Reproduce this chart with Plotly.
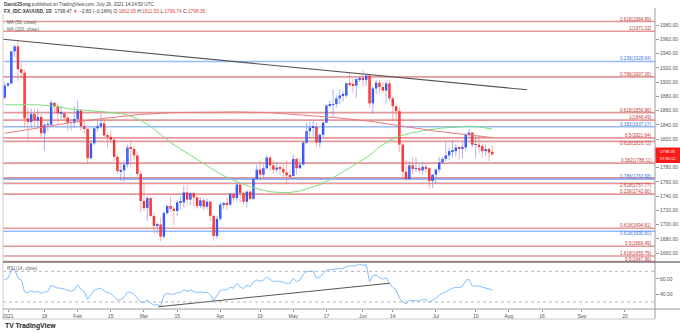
import pandas as pd
import plotly.graph_objects as go

W, H = 680, 333
def px(x): return x / W
def py(y): return 1 - y / H

# ---------------- data ----------------
dates = pd.bdate_range("2020-12-31", "2021-07-26").strftime("%Y-%m-%d").tolist()
calendar = pd.bdate_range("2020-12-31", "2021-09-30").strftime("%Y-%m-%d").tolist()

opens = [1878,1895,1898,1943,1950,1918,1913,
         1849,1844,1855,1846,1851, 1828,1840,1840,1871,1866, 1856,1856,1850,1843,1843,
         1848,1860,1838,1834,1793, 1814,1835,1838,1842,1825, 1823,1819,1795,1775,1776,
         1784,1808,1806,1797,1771, 1733,1723,1737,1712,1698, 1700,1683,1716,1726,1722,
         1719,1731,1731,1745,1735, 1744,1738,1726,1734,1725, 1732,1712,1684,1708,1728,
         1729,1728,1743,1737,1756, 1744,1732,1746,1736,1764, 1777,1770,1779,1794,1783,
         1777,1780,1778,1773,1769, 1768,1792,1779,1784,1815, 1831,1836,1837,1815,1826,
         1843,1867,1868,1869,1877, 1881,1881,1898,1896,1895, 1904,1905,1903,1909,1870,
         1891,1899,1893,1888,1898, 1877,1866,1859,1812,1774, 1764,1783,1778,1779,1776,
         1781,1779,1761,1770,1777, 1787,1792,1797,1803,1803, 1808,1806,1808,1826,1829,
         1812,1812,1810,1803,1806, 1802.05]
highs = [1900,1899,1944,1952,1959,1927,1917,
         1864,1863,1862,1863,1855, 1842,1845,1875,1871,1869, 1867,1858,1852,1846,1866,
         1875,1862,1845,1836,1818, 1838,1848,1855,1848,1828, 1831,1821,1798,1787,1790,
         1812,1815,1810,1802,1775, 1760,1740,1739,1717,1703, 1710,1719,1728,1739,1725,
         1734,1740,1755,1755,1746, 1746,1741,1738,1738,1736, 1733,1714,1712,1731,1732,
         1738,1745,1745,1758,1758, 1747,1748,1749,1765,1784, 1790,1785,1797,1797,1790,
         1788,1783,1784,1790,1776, 1798,1794,1793,1817,1843, 1845,1846,1843,1828,1845,
         1869,1874,1890,1881,1890, 1887,1900,1913,1904,1905, 1909,1916,1911,1910,1894,
         1903,1903,1900,1903,1903, 1879,1870,1865,1815,1791, 1789,1795,1794,1785,1788,
         1786,1781,1771,1779,1795, 1794,1815,1809,1818,1813, 1810,1816,1829,1834,1830,
         1825,1825,1814,1812,1808, 1811.53]
lows = [1875,1893,1897,1935,1901,1906,1836,
        1817,1836,1837,1836,1822, 1803,1831,1837,1855,1841, 1848,1846,1831,1832,1835,
        1846,1832,1828,1785,1792, 1811,1830,1835,1822,1808, 1813,1789,1771,1761,1760,
        1780,1781,1790,1767,1717, 1719,1705,1710,1688,1687, 1676,1680,1713,1718,1699,
        1712,1721,1724,1727,1727, 1724,1722,1723,1720,1721, 1705,1677,1680,1705,1722,
        1721,1726,1732,1733,1731, 1728,1724,1734,1735,1762, 1762,1766,1777,1775,1771,
        1773,1770,1764,1756,1763, 1768,1770,1778,1783,1813, 1821,1823,1809,1808,1822,
        1843,1864,1852,1864,1869, 1872,1878,1893,1885,1878, 1900,1894,1895,1864,1855,
        1883,1884,1885,1870,1873, 1845,1845,1802,1763,1761, 1762,1770,1774,1771,1769,
        1772,1750,1751,1758,1773, 1785,1789,1790,1794,1795, 1791,1793,1803,1822,1808,
        1794,1800,1794,1796,1789, 1796.74]
closes = [1895,1898,1943,1950,1918,1913,1849,
          1844,1855,1846,1851,1828, 1840,1840,1871,1866,1856, 1856,1850,1843,1843,1848,
          1860,1838,1834,1793,1814, 1835,1838,1842,1825,1823, 1819,1795,1775,1776,1784,
          1808,1806,1797,1771,1733, 1723,1737,1712,1698,1700, 1683,1716,1726,1722,1719,
          1731,1731,1745,1735,1744, 1738,1726,1734,1725,1732, 1712,1684,1708,1728,1729,
          1728,1743,1737,1756,1744, 1732,1746,1736,1764,1777, 1770,1779,1794,1783,1777,
          1780,1778,1773,1769,1768, 1792,1779,1784,1815,1831, 1836,1837,1815,1826,1843,
          1867,1868,1869,1877,1881, 1881,1898,1896,1895,1904, 1905,1903,1909,1870,1891,
          1899,1893,1888,1898,1877, 1866,1859,1812,1774,1764, 1783,1778,1779,1776,1781,
          1779,1761,1770,1777,1787, 1792,1797,1803,1803,1808, 1806,1808,1826,1829,1812,
          1812,1810,1803,1806,1801, 1798.35]
rsi = [59,61,71,73,61,59,43,
       42,45,43,44,41, 43,43.5,52,50,48, 48,47,45,44,45.6,
       52,46.5,43.4,33.5,40, 45,47,48,44,42, 41,36.9,32.5,33,36,
       43,42.5,40,34.8,30, 29,32.5,28.5,26,26.5, 23.8,39,41,40.5,40,
       42,42,46.5,43.4,45.6, 44,42,43.4,42,43, 39,31.6,39,45,46,
       46,49.2,48,54.4,49.5, 47.5,52,50,56,58.7, 57,58.5,63,59.6,56.5,
       57.5,57,56,54.4,54.5, 61,56.5,58.7,66,69.5, 70,70.5,61,63,67,
       71.8,72,72.7,73.5,74, 74,76,77,77,77.5, 79,78,78.5,56.5,64,
       65,62,59.6,61.7,54.4, 49.2,45.6,35,30,27.3, 32.5,31.6,32,31.5,33,
       33.5,29.5,32,34.8,39, 41.3,43.4,46,47.8,49.2, 48.5,50.8,57.8,59.6,50.8,
       51,50.8,49.2,48.5,47, 45.5]

# moving averages (bar index, value)
ma50_idx = [0,5,10,15,20,25,30,35,38,41,44,47,50,53,56,59,62,65,68,71,74,77,80,83,86,
            89,92,95,98,101,104,107,110,113,116,119,122,125,128,131,134,137,140,143,146,147]
ma50_val = [1868,1868,1868,1866,1862,1860,1858,1856,1852,1846,1838,1826,1815,1806,1797,
            1788,1779,1771,1764,1758,1753,1749,1746,1745,1745,1747,1751,1756,1763,1771,
            1779,1788,1797,1809,1818,1824,1828,1831,1833,1835,1836,1837,1838,1837,1835,1834]
ma200_idx = [0,10,20,30,40,50,60,70,80,90,100,110,115,120,130,140,147]
ma200_val = [1828,1836,1843,1849,1854,1857,1858,1858,1857,1854,1850,1845,1842,1838,1831,1826,1822]

# Fibonacci levels
fib_ratio = ["2.618","1","0.236","0.786","0.618","1","0.382","0.5","0.618","0.382",
             "","0.786","2.618","0.236","0.618","0.618","0.5","1.618","0.5"]
fib_price = [1984.89,1971.32,1928.84,1907.26,1856.96,1846.49,1837.17,1821.64,1816.72,1786.11,
             1765.50,1763.68,1757.77,1742.60,1694.81,1690.60,1669.49,1655.79,1647.96]
fib_kind = ["r","r","b","r","r","r","b","r","r","r","r","b","r","r","r","b","r","r","r"]
fib_below = [False,False,False,False,False,False,False,False,True,False,
             False,False,True,False,False,True,False,False,False]

# trendlines (bar index, value)
trend_main_x = [-0.5, 157.5]
trend_main_y = [1959.9, 1889.1]
trend_rsi_x = [46.3, 116.0]
trend_rsi_y = [23.8, 54.4]

# price-axis ticks (1800.00 sits under the last-price tag in the reference)
price_ticks = [1660,1680,1700,1720,1740,1760,1780,1820,1840,1860,1880,1900,1920,1940,1960,1980]
rsi_ticks = [40, 60]

tick_dates = ["2021-01-01","2021-01-18","2021-02-01","2021-02-15","2021-03-01","2021-03-15",
              "2021-04-01","2021-04-19","2021-05-03","2021-05-17","2021-06-01","2021-06-14",
              "2021-07-01","2021-07-19","2021-08-02","2021-08-16","2021-09-01","2021-09-20"]
tick_text = ["2021","18","Feb","15","Mar","15","Apr","19","May","17","Jun","14",
             "Jul","19","Aug","16","Sep","20"]

# ---------------- styles ----------------
UP, DN = "#2147f5", "#f5201f"
UPW, DNW = "rgba(110,130,250,0.6)", "rgba(245,110,110,0.55)"
RED_LINE, BLUE_LINE = "rgba(205,70,70,0.55)", "rgba(70,130,245,0.55)"
RED_TXT, BLUE_TXT = "#c23b3b", "#3b78e0"
FONT = "Liberation Sans"

pos = {d: k for k, d in enumerate(calendar)}
xi = [pos[d] for d in dates]
xmin, xmax = -0.507, 196.06

up = [c >= o for o, c in zip(opens, closes)]

def wick_xy(sel):
    xs, ys = [], []
    for k in range(len(xi)):
        if up[k] == sel:
            xs += [xi[k], xi[k], None]
            ys += [lows[k], highs[k], None]
    return xs, ys

fig = go.Figure()
wx, wy = wick_xy(True)
fig.add_trace(go.Scatter(x=wx, y=wy, mode="lines", line=dict(color=UPW, width=1), hoverinfo="skip"))
wx, wy = wick_xy(False)
fig.add_trace(go.Scatter(x=wx, y=wy, mode="lines", line=dict(color=DNW, width=1), hoverinfo="skip"))

body_base = [min(o, c) for o, c in zip(opens, closes)]
body_h = [max(abs(c - o), 0.8) for o, c in zip(opens, closes)]
fig.add_trace(go.Bar(x=xi, y=body_h, base=body_base, width=0.72,
                     marker=dict(color=[UP if u else DN for u in up], line=dict(width=0))))

fig.add_trace(go.Scatter(x=ma50_idx, y=ma50_val, mode="lines",
                         line=dict(color="rgb(125,222,125)", width=1)))
fig.add_trace(go.Scatter(x=ma200_idx, y=ma200_val, mode="lines",
                         line=dict(color="rgb(232,125,125)", width=1)))
fig.add_trace(go.Scatter(x=trend_main_x, y=trend_main_y, mode="lines",
                         line=dict(color="#555", width=1.1)))

# RSI pane
fig.add_trace(go.Scatter(x=xi, y=rsi, mode="lines", xaxis="x2", yaxis="y2",
                         line=dict(color="rgb(130,190,255)", width=1)))
fig.add_trace(go.Scatter(x=trend_rsi_x, y=trend_rsi_y, mode="lines", xaxis="x2", yaxis="y2",
                         line=dict(color="#555", width=1.1)))

shapes = []
annotations = []
for r, p, k, b in zip(fib_ratio, fib_price, fib_kind, fib_below):
    shapes.append(dict(type="line", xref="paper", yref="y", x0=px(3), x1=px(655), y0=p, y1=p,
                       line=dict(color=RED_LINE if k == "r" else BLUE_LINE, width=1.6), layer="below"))
    if r:
        annotations.append(dict(xref="paper", yref="y", x=px(653), y=p, xanchor="right",
                                yanchor="top" if b else "bottom",
                                text=f"{r}({p:.2f})", showarrow=False, borderpad=0,
                                yshift=1 if b else -1,
                                font=dict(size=4.6, color=RED_TXT if k == "r" else BLUE_TXT, family=FONT)))

for lvl in [70, 30]:
    shapes.append(dict(type="line", xref="paper", yref="y2", x0=px(3), x1=px(655), y0=lvl, y1=lvl,
                       line=dict(color="#b5b5b5", width=1, dash="dot")))

border = "#9a9a9a"
shapes += [
    dict(type="line", xref="paper", yref="paper", x0=px(655), x1=px(655), y0=py(319), y1=py(8), line=dict(color=border, width=1)),
    dict(type="line", xref="paper", yref="paper", x0=px(3), x1=px(3), y0=py(319), y1=py(14), line=dict(color="#cfcfcf", width=1)),
    dict(type="line", xref="paper", yref="paper", x0=px(3), x1=px(680), y0=py(262), y1=py(262), line=dict(color="#7a7a7a", width=1.5)),
    dict(type="line", xref="paper", yref="paper", x0=px(3), x1=px(680), y0=py(309), y1=py(309), line=dict(color=border, width=1)),
    dict(type="line", xref="paper", yref="paper", x0=px(3), x1=px(655), y0=py(319), y1=py(319), line=dict(color="#c8c8c8", width=1)),
    dict(type="rect", xref="paper", yref="paper", x0=px(655.5), x1=px(680), y0=py(163), y1=py(147.5),
         fillcolor="#ff1a1a", line=dict(width=0)),
]

def txt(x, y, s, size=5, color="#333", anchor="left"):
    annotations.append(dict(xref="paper", yref="paper", x=px(x), y=py(y), xanchor=anchor, yanchor="middle",
                            text=s, showarrow=False, borderpad=0,
                            font=dict(size=size, color=color, family=FONT)))

RV = "#e8413c"
txt(3, 4.5, "<b>DavidJSong</b> published on TradingView.com, July 26, 2021 14:24:50 UTC", size=4.6, color="#444")
txt(3, 11.5, "<b>FX_IDC:XAUUSD, 1D</b>  1798.47 <span style='color:#e8413c'>▼</span> −2.83 (−0.16%) "
             f"O:<span style='color:{RV}'>1802.05</span> H:<span style='color:{RV}'>1811.53</span> "
             f"L:<span style='color:{RV}'>1796.74</span> C:<span style='color:{RV}'>1798.35</span>",
    size=4.8, color="#333")
txt(6, 22.5, "MA (50, close)", size=4.6, color="#666")
txt(6, 29.5, "MA (200, close)", size=4.6, color="#666")
txt(6, 268.5, "RSI (14, close)", size=4.6, color="#666")
txt(667.5, 151.5, "1798.35", size=4.2, color="white", anchor="center")
txt(667.5, 158.8, "07:35:12", size=4.0, color="white", anchor="center")
txt(4, 326, "<b>TV</b> <b>TradingView</b>", size=6.8, color="#222")

axis_common = dict(showgrid=False, zeroline=False, automargin=False, showline=False)
fig.update_layout(
    width=W, height=H, margin=dict(l=0, r=0, t=0, b=0),
    template="none", paper_bgcolor="white", plot_bgcolor="white",
    showlegend=False, barmode="overlay", font=dict(family=FONT, size=5, color="#555"),
    xaxis=dict(domain=[px(3), px(655)], range=[xmin, xmax], anchor="y", showticklabels=False,
               ticks="", **axis_common),
    yaxis=dict(domain=[py(262), py(8)], range=[1647.37, 2003.86], anchor="x", side="right",
               tickvals=price_ticks, tickformat=".2f", ticks="outside", ticklen=3,
               tickcolor="#999", tickfont=dict(size=5, color="#555", family=FONT), **axis_common),
    xaxis2=dict(domain=[px(3), px(655)], range=[xmin, xmax], anchor="y2",
                tickvals=[pos[d] for d in tick_dates], ticktext=tick_text,
                ticks="outside", ticklen=2, tickcolor="#999",
                tickfont=dict(size=5, color="#555", family=FONT), **axis_common),
    yaxis2=dict(domain=[py(309), py(262)], range=[20.8, 82.2], anchor="x2", side="right",
                tickvals=rsi_ticks, tickformat=".2f", ticks="outside", ticklen=3, tickcolor="#999",
                tickfont=dict(size=5, color="#555", family=FONT), **axis_common),
    shapes=shapes, annotations=annotations,
)

fig.write_html("out.html")
